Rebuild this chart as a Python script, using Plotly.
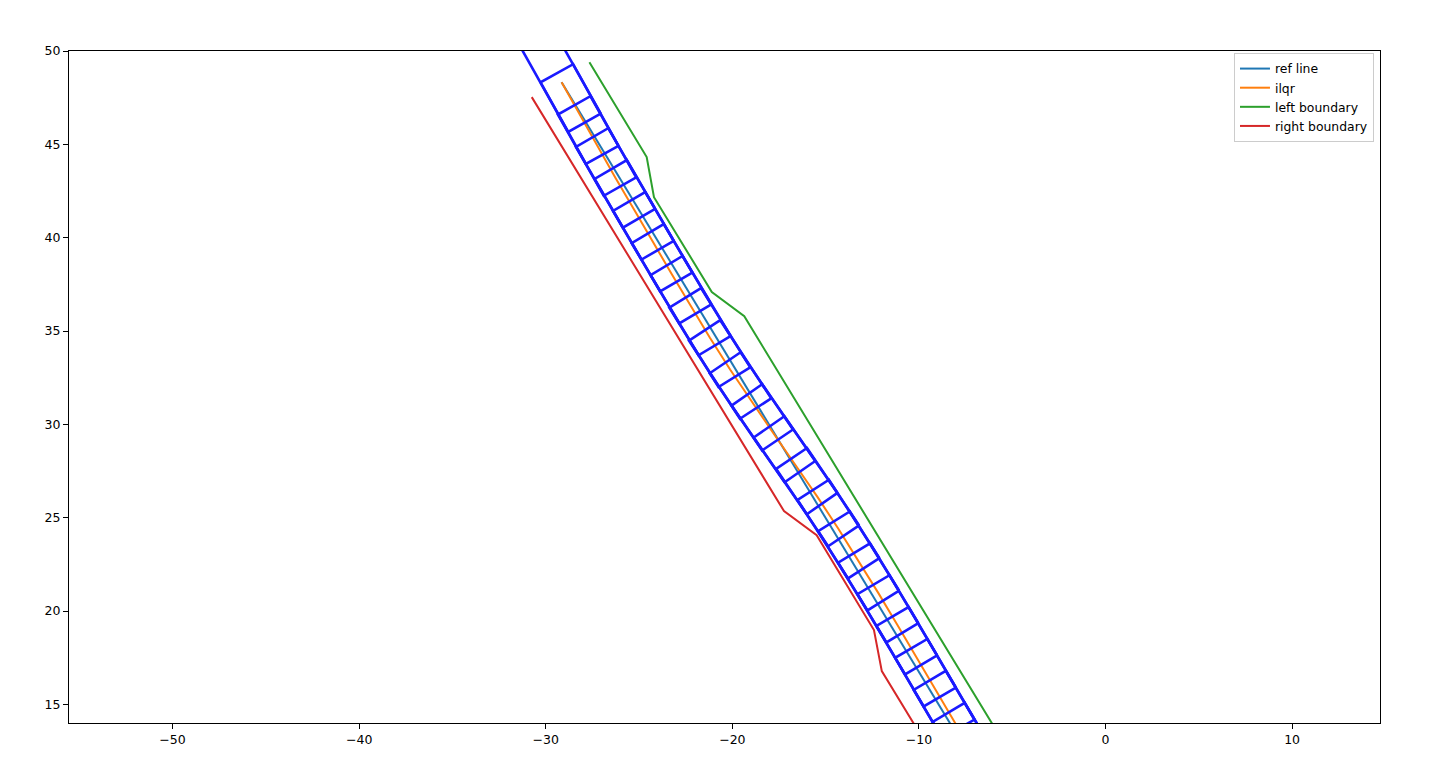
import numpy as np
import plotly.graph_objects as go

# ---------------- data ----------------
# reference line
ref_x = [-29.15, -24.67, -18.78, -13.60, -8.33, -7.13]
ref_y = [48.33, 40.93, 31.23, 22.68, 13.98, 12.00]

# ilqr trajectory (poses, ~2 m apart)
ilqr_x = [-29.15, -28.19, -27.25, -26.26, -25.26, -24.27, -23.26, -22.24,
          -21.21, -20.12, -18.98, -17.80, -16.61, -15.43, -14.31, -13.23,
          -12.18, -11.16, -10.15, -9.15, -8.15, -7.13, -6.12]
ilqr_y = [48.33, 46.62, 44.91, 43.20, 41.49, 39.78, 38.07, 36.36,
          34.65, 32.94, 31.23, 29.52, 27.81, 26.10, 24.39, 22.68,
          20.97, 19.26, 17.55, 15.84, 14.13, 12.42, 10.71]

# road boundaries
left_x = [-27.66, -24.59, -24.20, -21.10, -19.36, -6.10, -4.88]
left_y = [49.40, 44.32, 42.17, 37.09, 35.79, 14.00, 12.00]
right_x = [-30.75, -17.23, -15.48, -12.41, -11.99, -10.30, -9.08]
right_y = [47.53, 25.35, 24.06, 18.98, 16.78, 14.00, 12.00]

# vehicle footprint
veh_length = 5.0
veh_width = 2.0

x_ticks = [-50, -40, -30, -20, -10, 0, 10]
y_ticks = [15, 20, 25, 30, 35, 40, 45, 50]

# ---------------- figure ----------------
fig = go.Figure()

fig.add_trace(go.Scatter(x=ref_x, y=ref_y, mode="lines", name="ref line",
                         line=dict(color="#1f77b4", width=2)))
fig.add_trace(go.Scatter(x=ilqr_x, y=ilqr_y, mode="lines", name="ilqr",
                         line=dict(color="#ff7f0e", width=2)))
fig.add_trace(go.Scatter(x=left_x, y=left_y, mode="lines", name="left boundary",
                         line=dict(color="#2ca02c", width=2)))
fig.add_trace(go.Scatter(x=right_x, y=right_y, mode="lines", name="right boundary",
                         line=dict(color="#d62728", width=2)))

# vehicle boxes at each ilqr pose
px = np.array(ilqr_x)
py = np.array(ilqr_y)
theta = np.arctan2(np.gradient(py), np.gradient(px))
bx, by = [], []
hl, hw = veh_length / 2, veh_width / 2
for cx, cy, th in zip(px, py, theta):
    c, s = np.cos(th), np.sin(th)
    corners = [(hl, hw), (hl, -hw), (-hl, -hw), (-hl, hw), (hl, hw)]
    for a, b in corners:
        bx.append(cx + a * c - b * s)
        by.append(cy + a * s + b * c)
    bx.append(None)
    by.append(None)
fig.add_trace(go.Scatter(x=bx, y=by, mode="lines", showlegend=False,
                         line=dict(color="#1a1aff", width=2.6)))

axis_common = dict(showgrid=False, zeroline=False, showline=True,
                   linecolor="black", linewidth=1.2, mirror=True,
                   ticks="outside", ticklen=5, tickwidth=1.1, tickcolor="black",
                   tickfont=dict(family="DejaVu Sans", size=12.5, color="black"))

fig.update_xaxes(range=[-55.55, 14.71], tickvals=x_ticks, **axis_common)
fig.update_yaxes(range=[14, 50], tickvals=y_ticks, **axis_common)

fig.update_layout(
    width=1440, height=784,
    margin=dict(l=61, r=68, t=43, b=69),
    plot_bgcolor="white", paper_bgcolor="white",
    font=dict(family="DejaVu Sans", size=12.5, color="black"),
    legend=dict(x=0.9954, y=0.997, xanchor="right", yanchor="top",
                bgcolor="rgba(255,255,255,0.8)", bordercolor="#cccccc",
                borderwidth=1, font=dict(size=12.4), tracegroupgap=0),
)

fig.write_html("out.html")
